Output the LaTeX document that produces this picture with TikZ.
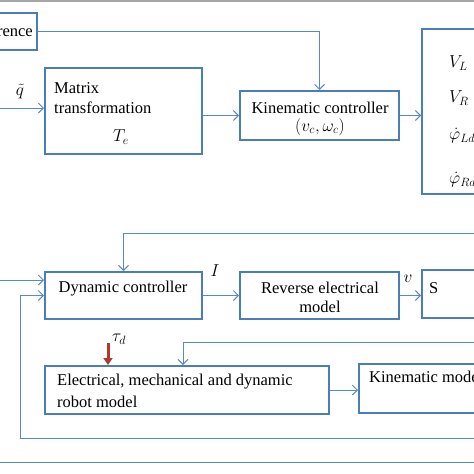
\documentclass[tikz,border=0pt]{standalone}
\usepackage{fontspec}
\setmainfont{Liberation Serif}
\usetikzlibrary{arrows.meta}
\definecolor{boxblue}{HTML}{4A7EBB}
\definecolor{lineblue}{HTML}{5B87C5}
\definecolor{taured}{HTML}{B0392E}
\tikzset{
	every node/.style={inner sep=0pt,font=\fontsize{16.5}{20}\selectfont},
	box/.style={shape=rectangle,draw=boxblue,line width=2pt,fill=white},
	txt/.style={anchor=west},
	rtxt/.style={anchor=east},
}
\tikzstyle{arrow} = [line width=0.9pt,draw=lineblue,->,>={Straight Barb[length=5pt,width=10pt]}]
\tikzstyle{line} = [line width=0.9pt,draw=lineblue]
\tikzstyle{tauarrow} = [line width=3pt,draw=taured,-{Triangle[length=7pt,width=9pt]}]
\begin{document}
\begin{tikzpicture}[x=1pt,y=-1pt]
	\useasboundingbox (0,0) rectangle (474,474);
	\draw[gray!70,line width=2pt] (-5,1) -- (480,1);
	
	% upper loop
	\node[box,minimum width=97,minimum height=37] (ref) at (-11.5,31) {};
	\node[box,minimum width=157,minimum height=86] (mat) at (123.5,111) {};
	\node[box,minimum width=159,minimum height=49] (kin) at (319.5,115.5) {};
	\node[box,minimum width=90,minimum height=165] (out) at (467,111.5) {};
	
	\node[rtxt] (reftxt) at (33,31) {Reference};
	\node[txt] (mattxt1) at (54,88) {Matrix};
	\node[txt] (mattxt2) at (54,108) {transformation};
	\node (te) at (121,137) {$T_e$};
	\node (kintxt1) at (320,108) {Kinematic controller};
	\node (kintxt2) at (320,127) {$(v_c,\omega_c)$};
	\node (qt) at (20,92) {$\tilde{q}$};
	\node[txt] (vl) at (449,63) {$V_L$};
	\node[txt] (vr) at (449,98) {$V_R$};
	\node[txt] (phil) at (449,136) {$\dot{\varphi}_{Ld}$};
	\node[txt] (phir) at (449,180) {$\dot{\varphi}_{Rd}$};
	
	\coordinate (qin) at (-5,108);
	\draw[arrow] (ref.east) -| (kin.north);
	\draw[arrow] (qin) -- (qin -| mat.west);
	\draw[arrow] (kin.west -| mat.east) -- (kin.west);
	\draw[arrow] (kin.east) -- (kin.east -| out.west);
	
	% lower loop
	\node[box,minimum width=157,minimum height=47] (dyn) at (123.5,295.5) {};
	\node[box,minimum width=159,minimum height=47] (rev) at (319.5,295.5) {};
	\node[box,minimum width=90,minimum height=48] (sim) at (467,294) {};
	\node[box,minimum width=284,minimum height=48] (elec) at (187,390) {};
	\node[box,minimum width=140,minimum height=49] (kmod) at (429,388.5) {};
	
	\node (dyntxt) at (123,289) {Dynamic controller};
	\node (revtxt1) at (320,288) {Reverse electrical};
	\node (revtxt2) at (320,307) {model};
	\node[txt] (simtxt) at (429,288) {S};
	\node[txt] (electxt1) at (57,382) {Electrical, mechanical and dynamic};
	\node[txt] (electxt2) at (57,402) {robot model};
	\node[txt] (kmodtxt) at (369,377) {Kinematic model};
	\node (icur) at (215,271) {$I$};
	\node (volt) at (408,279) {$v$};
	\node (tau) at (119,339) {$\tau_d$};
	
	\coordinate (fbtop) at (480,233);
	\coordinate (fbmid) at (480,342);
	\coordinate (fbbot) at (480,438);
	\coordinate (loopx) at (20,438);
	\coordinate (in1) at (-5,280);
	\coordinate (bot1) at (-5,462);
	\coordinate (bot2) at (480,462);
	\coordinate (taud) at (108,343);
	
	\draw[arrow] (fbtop) -| (dyn.north);
	\draw[arrow] (in1) -- (in1 -| dyn.west);
	\draw[arrow] (fbbot) -- (loopx) |- (dyn.west);
	\draw[arrow] (dyn.east) -- (rev.west);
	\draw[arrow] (rev.east) -- (rev.east -| sim.west);
	\draw[arrow] (fbmid) -| ([xshift=-4pt]elec.north);
	\draw[arrow] (elec.east) -- (elec.east -| kmod.west);
	\draw[tauarrow] (taud) -- (taud |- elec.north);
	\draw[line] (bot1) -- (bot2);
\end{tikzpicture}
\end{document}
